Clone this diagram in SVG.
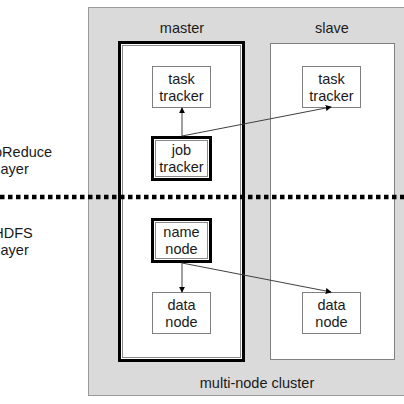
<svg xmlns="http://www.w3.org/2000/svg" width="404" height="404" viewBox="0 0 404 404">
<style>
text{font-family:"Liberation Sans",Arial,sans-serif;font-size:14.5px;fill:#1a1a1a;text-anchor:middle}
.box{fill:#fff;stroke:#808080;stroke-width:1}
.thick{fill:#fff;stroke:#000;stroke-width:3}
.inner{fill:none;stroke:#8a8a8a;stroke-width:1}
.conn{stroke:#404040;stroke-width:1;fill:none;marker-end:url(#ah)}
</style>
<defs>
<marker id="ah" viewBox="0 0 8 8" refX="7" refY="4" markerWidth="6" markerHeight="6" orient="auto" markerUnits="userSpaceOnUse">
<path d="M0,0L8,4L0,8z" fill="#000"/>
</marker>
</defs>
<rect width="404" height="404" fill="#fff"/>
<g id="cluster">
<rect x="88.5" y="7.5" width="320" height="388" fill="#dadada" stroke="#9a9a9a"/>
<text x="257" y="388">multi-node cluster</text>
</g>
<g id="master">
<rect class="thick" x="119.5" y="42.5" width="124" height="318"/>
<rect class="inner" x="122.5" y="45.5" width="118" height="312"/>
<text x="182" y="33">master</text>
</g>
<g id="slave">
<rect class="box" x="270.5" y="43.5" width="124" height="316"/>
<text x="332" y="33">slave</text>
</g>
<g id="layers">
<line x1="0" y1="197" x2="404" y2="197" stroke="#000" stroke-width="4.5" stroke-dasharray="4.5 3.5"/>
<text x="13" y="157">MapReduce</text>
<text x="13" y="174">layer</text>
<text x="13" y="238">HDFS</text>
<text x="13" y="255">layer</text>
</g>
<g id="tt-master">
<rect class="box" x="152.5" y="66.5" width="58" height="41"/>
<text x="181.5" y="84">task</text>
<text x="181.5" y="101">tracker</text>
</g>
<g id="tt-slave">
<rect class="box" x="302.5" y="66.5" width="58" height="41"/>
<text x="331.5" y="84">task</text>
<text x="331.5" y="101">tracker</text>
</g>
<g id="job-tracker">
<rect class="thick" x="152.5" y="137.5" width="58" height="42"/>
<rect class="inner" x="155.5" y="140.5" width="52" height="36"/>
<text x="181.5" y="155">job</text>
<text x="181.5" y="172">tracker</text>
</g>
<g id="name-node">
<rect class="thick" x="152.5" y="219.5" width="58" height="42"/>
<rect class="inner" x="155.5" y="222.5" width="52" height="36"/>
<text x="181.5" y="237">name</text>
<text x="181.5" y="254">node</text>
</g>
<g id="dn-master">
<rect class="box" x="152.5" y="292.5" width="58" height="41"/>
<text x="181.5" y="310">data</text>
<text x="181.5" y="327">node</text>
</g>
<g id="dn-slave">
<rect class="box" x="302.5" y="292.5" width="58" height="41"/>
<text x="331.5" y="310">data</text>
<text x="331.5" y="327">node</text>
</g>
<g id="connectors">
<line class="conn" x1="182" y1="136" x2="182" y2="108"/>
<line class="conn" x1="182" y1="136" x2="331" y2="107"/>
<line class="conn" x1="182" y1="263" x2="182" y2="292"/>
<line class="conn" x1="182" y1="263" x2="331" y2="292"/>
</g>
</svg>
